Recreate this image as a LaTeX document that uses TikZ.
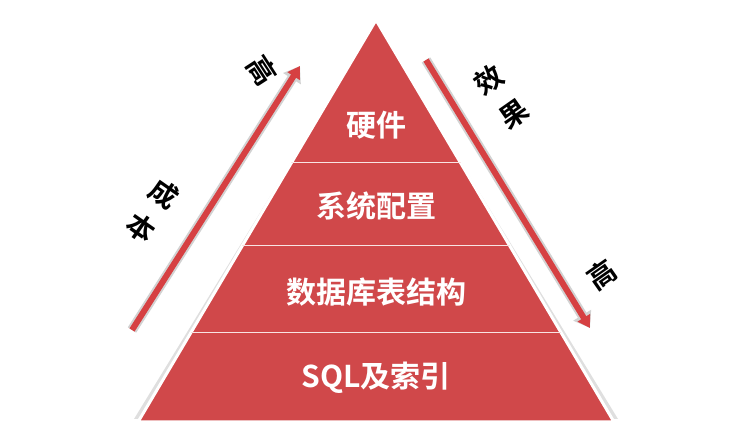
\documentclass[tikz,border=0pt]{standalone}
\usepackage{fontspec}
\newfontfamily\cjk{Noto Sans CJK SC Bold}
\usetikzlibrary{arrows.meta}
\definecolor{tri}{RGB}{208,72,74}
\definecolor{arr}{RGB}{214,64,66}
\tikzset{
 lbl/.style={font=\cjk\fontsize{30}{34}\selectfont, text=white},
 side/.style={font=\cjk\fontsize{28}{32}\selectfont, text=black, inner sep=0pt},
 bigarrow/.style={draw=arr, line width=6pt, -{Triangle[length=12pt,width=14pt]}, preaction={draw=gray!35, line width=10pt, -{Triangle[length=15pt,width=20pt]}}},
 divider/.style={draw=white!85!tri, line width=1pt}
}
\begin{document}
\begin{tikzpicture}[x=1pt,y=-1pt]
\useasboundingbox (0,0) rectangle (748,438);
\coordinate (apex) at (376,20);
\coordinate (bl) at (138,422);
\coordinate (br) at (614,422);
\fill[gray!25] ([yshift=-3]apex) -- ([xshift=-4,yshift=3]bl) -- ([xshift=4,yshift=3]br) -- cycle;
\fill[tri, draw=white, line width=3pt] (apex) -- (bl) -- (br) -- cycle;
\foreach \y/\n in {163/a,246/b,333/c}{
 \path (apex) -- (bl) coordinate[pos={(\y-20)/402}] (l\n);
 \path (apex) -- (br) coordinate[pos={(\y-20)/402}] (r\n);
 \draw[divider] (l\n) -- (r\n);
}
\node[lbl] (n1) at (376,125) {硬件};
\node[lbl] (n2) at (376,206) {系统配置};
\node[lbl] (n3) at (376,292) {数据库表结构};
\node[lbl] (n4) at (376,378) {SQL及索引};
\coordinate (la) at (132,330);
\coordinate (lb) at (300,66);
\draw[bigarrow] (la) -- (lb);
\coordinate (ra) at (426,60);
\coordinate (rb) at (590,328);
\draw[bigarrow] (ra) -- (rb);
\node[side, rotate=-35] (c1) at (164,194) {成};
\node[side, rotate=-35] (c2) at (141,228) {本};
\node[side, rotate=-57] (g1) at (262,70) {高};
\node[side, rotate=35] (x1) at (489,80) {效};
\node[side, rotate=35] (x2) at (514,114) {果};
\node[side, rotate=35] (g2) at (602,275) {高};
\end{tikzpicture}
\end{document}
